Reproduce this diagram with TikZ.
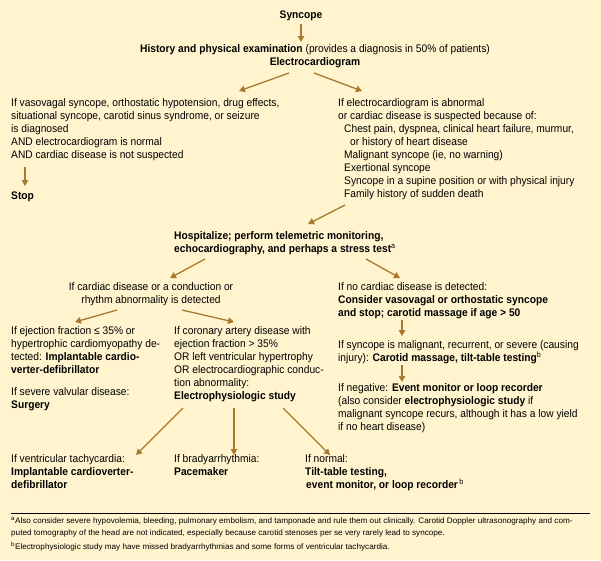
\documentclass[tikz,border=0pt]{standalone}
\usepackage{fontspec}
\setmainfont[FakeStretch=0.93]{Liberation Sans}
\newfontfamily\fnfont[FakeStretch=1.02]{Liberation Sans}
\usetikzlibrary{arrows.meta}
\definecolor{bg}{HTML}{FFF4CE}
\definecolor{arr}{HTML}{A87A30}
\tikzset{
 txt/.style={anchor=north west,align=left,inner sep=0pt,font=\fontsize{11}{13}\selectfont},
 fn/.style={anchor=north west,align=left,inner sep=0pt,font=\fnfont\fontsize{8}{12.5}\selectfont},
 ar/.style={draw=arr,line width=1.3pt,-{Triangle[length=6pt,width=6.5pt]},arr}
}
\begin{document}
\begin{tikzpicture}[x=1pt,y=-1pt]
\fill[bg] (0,0) rectangle (601,560);
\node[txt,anchor=center] (syn) at (301,16) {\textbf{Syncope}};
\node[txt,anchor=north,align=center] (hist) at (315,44) {\textbf{History and physical examination} (provides a diagnosis in 50\% of patients)\\\textbf{Electrocardiogram}};
\node[txt] (lft) at (11,98) {If vasovagal syncope, orthostatic hypotension, drug effects,\\situational syncope, carotid sinus syndrome, or seizure\\is diagnosed\\AND electrocardiogram is normal\\AND cardiac disease is not suspected};
\node[txt] (stop) at (11,192) {\textbf{Stop}};
\node[txt] (rgt) at (338,98) {If electrocardiogram is abnormal\\or cardiac disease is suspected because of:\\\hspace{6pt}Chest pain, dyspnea, clinical heart failure, murmur,\\\hspace{12pt}or history of heart disease\\\hspace{6pt}Malignant syncope (ie, no warning)\\\hspace{6pt}Exertional syncope\\\hspace{6pt}Syncope in a supine position or with physical injury\\\hspace{6pt}Family history of sudden death};
\node[txt] (hosp) at (174,231) {\textbf{Hospitalize; perform telemetric monitoring,}\\\textbf{echocardiography, and perhaps a stress test}\textsuperscript{a}};
\node[txt,anchor=north,align=center] (cd) at (151,282) {If cardiac disease or a conduction or\\rhythm abnormality is detected};
\node[txt] (nocd) at (338,282) {If no cardiac disease is detected:\\\textbf{Consider vasovagal or orthostatic syncope}\\\textbf{and stop; carotid massage if age > 50}};
\node[txt] (ef) at (11,326) {If ejection fraction ≤ 35\% or\\hypertrophic cardiomyopathy de-\\tected: \textbf{Implantable cardio-}\\\textbf{verter-defibrillator}};
\node[txt] (valv) at (11,387) {If severe valvular disease:\\\textbf{Surgery}};
\node[txt] (cad) at (174,326) {If coronary artery disease with\\ejection fraction > 35\%\\OR left ventricular hypertrophy\\OR electrocardiographic conduc-\\tion abnormality:\\\textbf{Electrophysiologic study}};
\node[txt] (mal) at (338,340) {If syncope is malignant, recurrent, or severe (causing\\injury): \textbf{Carotid massage, tilt-table testing}\textsuperscript{b}};
\node[txt] (neg) at (338,383) {If negative: \textbf{Event monitor or loop recorder}\\(also consider \textbf{electrophysiologic study} if\\malignant syncope recurs, although it has a low yield\\if no heart disease)};
\node[txt] (vt) at (11,454) {If ventricular tachycardia:\\\textbf{Implantable cardioverter-}\\\textbf{defibrillator}};
\node[txt] (brady) at (174,454) {If bradyarrhythmia:\\\textbf{Pacemaker}};
\node[txt] (norm) at (305,454) {If normal:\\\textbf{Tilt-table testing,}\\\hspace{1pt}\textbf{event monitor, or loop recorder}\textsuperscript{\,b}};
\coordinate (lineL) at (11,513); \coordinate (lineR) at (590,513);
\draw[line width=0.6pt] (lineL) -- (lineR);
\node[fn] (f1) at (11,517) {\textsuperscript{a}Also consider severe hypovolemia, bleeding, pulmonary embolism, and tamponade and rule them out clinically. Carotid Doppler ultrasonography and com-\\puted tomography of the head are not indicated, especially because carotid stenoses per se very rarely lead to syncope.};
\node[fn] (f2) at (11,542) {\textsuperscript{b}Electrophysiologic study may have missed bradyarrhythmias and some forms of ventricular tachycardia.};
% arrows
\coordinate (a1s) at (301,24); \coordinate (a1e) at (301,42);
\draw[ar] (a1s) -- (a1e);
\coordinate (a2s) at (289,73); \coordinate (a2e) at (239,91);
\draw[ar] (a2s) -- (a2e);
\coordinate (a3s) at (314,73); \coordinate (a3e) at (362,91);
\draw[ar] (a3s) -- (a3e);
\coordinate (a4s) at (25,167); \coordinate (a4e) at (25,186);
\draw[ar] (a4s) -- (a4e);
\coordinate (a5s) at (345,205); \coordinate (a5e) at (308,224);
\draw[ar] (a5s) -- (a5e);
\coordinate (a6s) at (205,259); \coordinate (a6e) at (170,278);
\draw[ar] (a6s) -- (a6e);
\coordinate (a7s) at (366,259); \coordinate (a7e) at (400,278);
\draw[ar] (a7s) -- (a7e);
\coordinate (a8s) at (117,310); \coordinate (a8e) at (75,322);
\draw[ar] (a8s) -- (a8e);
\coordinate (a9s) at (182,310); \coordinate (a9e) at (234,322);
\draw[ar] (a9s) -- (a9e);
\coordinate (a10s) at (402,320); \coordinate (a10e) at (402,336);
\draw[ar] (a10s) -- (a10e);
\coordinate (a11s) at (402,365); \coordinate (a11e) at (402,382);
\draw[ar] (a11s) -- (a11e);
\coordinate (a12s) at (183,408); \coordinate (a12e) at (136,455);
\draw[ar] (a12s) -- (a12e);
\coordinate (a13s) at (234,408); \coordinate (a13e) at (234,455);
\draw[ar] (a13s) -- (a13e);
\coordinate (a14s) at (283,408); \coordinate (a14e) at (330,455);
\draw[ar] (a14s) -- (a14e);
\end{tikzpicture}
\end{document}
